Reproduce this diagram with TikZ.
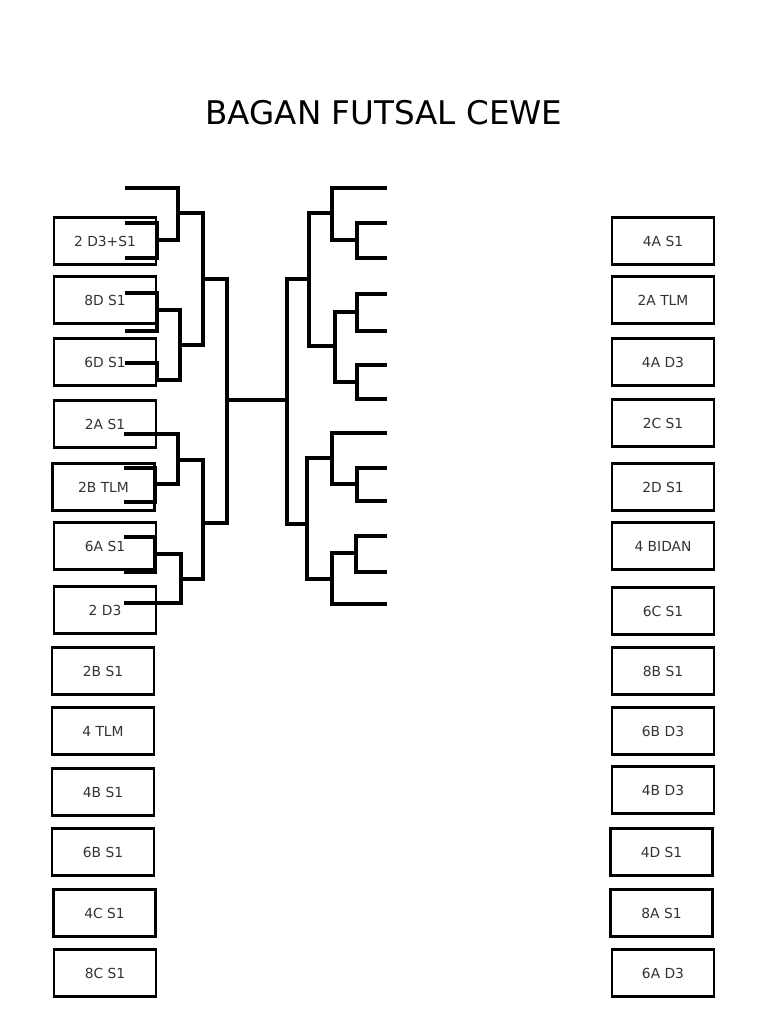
\documentclass[tikz,border=0pt]{standalone}
\usepackage{fontspec}
\setmainfont{DejaVu Sans}
\tikzset{
  team/.style={draw=black, line width=2.5pt, minimum width=3.06cm, minimum height=1.4cm,
    inner sep=0pt, text=black!80, font=\fontsize{11.8}{14}\selectfont},
  bracket/.style={line width=2.6pt, line cap=rect}
}
\begin{document}
\begin{tikzpicture}[x=0.03cm, y=-0.03cm]
  \useasboundingbox (0,0) rectangle (768,1024);
  \node (title) at (384,113) {\fontsize{27.8}{32}\selectfont BAGAN FUTSAL CEWE};
  % left teams
  \foreach \nm/\x/\y [count=\i] in {2 D3+S1/105/241, 8D S1/105/300, 6D S1/105/362,
      2A S1/105/424, 2B TLM/103.5/487, 6A S1/105/546, 2 D3/105/610, 2B S1/103/671,
      4 TLM/103/731, 4B S1/103/792, 6B S1/103/852, 4C S1/104.5/913, 8C S1/105/973}
    \node[team] (left\i) at (\x,\y) {\nm};
  % right teams
  \foreach \nm/\x/\y [count=\i] in {4A S1/663/241, 2A TLM/663/300, 4A D3/663/362,
      2C S1/663/423, 2D S1/663/487, 4 BIDAN/663/546, 6C S1/663/611, 8B S1/663/671,
      6B D3/663/731, 4B D3/663/790, 4D S1/661.5/852, 8A S1/661.5/913, 6A D3/663/973}
    \node[team] (right\i) at (\x,\y) {\nm};
  % left bracket
  \draw[bracket] (127,188) -| (178,240) -- (157,240);
  \draw[bracket] (127,223) -| (157,258) -- (127,258);
  \draw[bracket] (178,213) -| (203,345) -- (180,345);
  \draw[bracket] (127,293) -| (157,331) -- (127,331);
  \draw[bracket] (157,310) -| (180,380) -- (157,380);
  \draw[bracket] (127,363) -| (157,380);
  \draw[bracket] (203,279) -| (227,523) -- (203,523);
  \draw[bracket] (126,434) -| (178,484) -- (155,484);
  \draw[bracket] (126,468) -| (155,502) -- (126,502);
  \draw[bracket] (178,460) -| (203,579) -- (181,579);
  \draw[bracket] (126,537) -| (155,572) -- (126,572);
  \draw[bracket] (155,554) -| (181,603) -- (126,603);
  % final
  \draw[bracket] (227,400) -- (287,400);
  % right bracket
  \draw[bracket] (309,279) -| (287,524) -- (307,524);
  \draw[bracket] (332,213) -| (309,346) -- (335,346);
  \draw[bracket] (385,188) -| (332,240) -- (357,240);
  \draw[bracket] (385,223) -| (357,258) -- (385,258);
  \draw[bracket] (357,312) -| (335,382) -- (357,382);
  \draw[bracket] (385,294) -| (357,331) -- (385,331);
  \draw[bracket] (385,365) -| (357,399) -- (385,399);
  \draw[bracket] (332,458) -| (307,579) -- (332,579);
  \draw[bracket] (385,433) -| (332,484) -- (357,484);
  \draw[bracket] (385,468) -| (357,501) -- (385,501);
  \draw[bracket] (356,553) -| (332,604) -- (385,604);
  \draw[bracket] (385,536) -| (356,572) -- (385,572);
\end{tikzpicture}
\end{document}
